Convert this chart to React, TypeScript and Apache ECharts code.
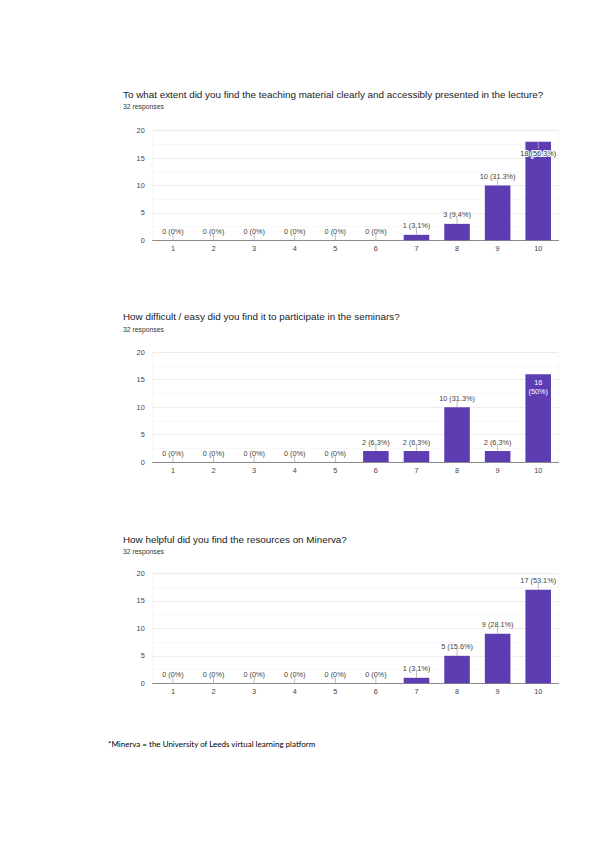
import React, { useEffect, useRef } from "react";
import * as echarts from "echarts";

const categories = ["1", "2", "3", "4", "5", "6", "7", "8", "9", "10"];
const q1Values = [0, 0, 0, 0, 0, 0, 1, 3, 10, 18];
const q2Values = [0, 0, 0, 0, 0, 2, 2, 10, 2, 16];
const q3Values = [0, 0, 0, 0, 0, 0, 1, 5, 9, 17];
const responses = 32;
const titles = [
  "To what extent did you find the teaching material clearly and accessibly presented in the lecture?",
  "How difficult / easy did you find it to participate in the seminars?",
  "How helpful did you find the resources on Minerva?",
];
const subtitle = "32 responses";
const footnote = "*Minerva = the University of Leeds virtual learning platform";
const yTicks = [0, 5, 10, 15, 20];

const BAR = "#5E3DB3";
const FONT = "Liberation Sans";

export default function App() {
  const ref = useRef<HTMLDivElement>(null);
  useEffect(() => {
    if (!ref.current) return;
    const chart = echarts.init(ref.current, null, { renderer: "svg" });
    const grids = [
      { top: 130.7, height: 109.6 },
      { top: 352.3, height: 109.7 },
      { top: 573.3, height: 110 },
    ];
    const titleY = [94, 316, 539];
    const subY = [106.5, 329, 551];
    const data = [q1Values, q2Values, q3Values];
    const pct = (v: number) => Math.round((v / responses) * 1000) / 10;

    const series: any[] = [];
    data.forEach((vals, gi) => {
      series.push({
        type: "bar",
        xAxisIndex: gi,
        yAxisIndex: gi,
        barWidth: "63%",
        itemStyle: { color: BAR },
        data: vals.map((v) => {
          const inside = v >= 16 && (gi === 0 || gi === 1);
          const item: any = { value: v };
          if (inside && gi === 0) {
            item.label = {
              position: "insideTop",
              distance: 8,
              color: "#333",
              textBorderColor: "#ffffff",
              textBorderWidth: 2,
            };
          } else if (inside && gi === 1) {
            item.label = {
              position: "insideTop",
              distance: 4,
              color: "#ffffff",
              formatter: () => `${v}\n(${pct(v)}%)`,
              lineHeight: 9,
            };
          }
          return item;
        }),
        label: {
          show: true,
          position: "top",
          distance: 5.5,
          fontFamily: FONT,
          fontSize: 7.3,
          color: "#444",
          formatter: (p: any) => `${p.value} (${pct(p.value)}%)`,
        },
        z: 2,
      });
      series.push({
        type: "scatter",
        xAxisIndex: gi,
        yAxisIndex: gi,
        symbol: "rect",
        symbolSize: [0.8, 7],
        silent: true,
        itemStyle: { color: "#9e9e9e" },
        data: vals.map((v) => {
          const inside = v >= 16 && (gi === 0 || gi === 1);
          if (inside && gi === 0) {
            return { value: v, symbolOffset: [0, 3.5], itemStyle: { color: "#c9bde8" } };
          }
          if (inside) return { value: v, symbolSize: 0 };
          return { value: v, symbolOffset: [0, -3.5] };
        }),
        z: 3,
      });
    });

    const graphic: any[] = [];
    titles.forEach((t, i) => {
      graphic.push({
        type: "text",
        x: 123,
        y: titleY[i],
        style: {
          text: t,
          fontFamily: FONT,
          fontSize: 9.85,
          fill: "#202124",
          verticalAlign: "middle",
        },
      });
      graphic.push({
        type: "text",
        x: 123,
        y: subY[i],
        style: {
          text: subtitle,
          fontFamily: FONT,
          fontSize: 6.8,
          fill: "#333",
          verticalAlign: "middle",
        },
      });
    });
    graphic.push({
      type: "text",
      x: 108,
      y: 744,
      style: {
        text: footnote,
        fontFamily: "Lato",
        fontSize: 8,
        fill: "#000",
        verticalAlign: "middle",
      },
    });

    chart.setOption({
      animation: false,
      backgroundColor: "#ffffff",
      grid: grids.map((g) => ({
        left: 152.7,
        right: 36.5,
        top: g.top,
        height: g.height,
        show: true,
        borderColor: "#f0f0f0",
        borderWidth: 0.6,
      })),
      xAxis: grids.map((_, i) => ({
        type: "category",
        gridIndex: i,
        data: categories,
        axisLine: { show: true, lineStyle: { color: "#8a8a8a", width: 1 } },
        axisTick: { show: false },
        axisLabel: { fontFamily: FONT, fontSize: 7.3, color: "#444", margin: 5 },
      })),
      yAxis: grids.map((_, i) => ({
        type: "value",
        gridIndex: i,
        min: yTicks[0],
        max: yTicks[yTicks.length - 1],
        interval: 5,
        axisLine: { show: false },
        axisTick: { show: false },
        axisLabel: { fontFamily: FONT, fontSize: 7.3, color: "#444", margin: 8 },
        splitLine: { show: true, lineStyle: { color: "#e6e6e6", width: 0.7 } },
        minorTick: { show: false, splitNumber: 2 },
        minorSplitLine: { show: true, lineStyle: { color: "#f3f3f3", width: 0.6 } },
      })),
      series,
      graphic,
    });
    return () => chart.dispose();
  }, []);
  return (
    <div
      ref={ref}
      style={{ position: "absolute", left: 0, top: 0, width: 595, height: 842, background: "#fff" }}
    />
  );
}
